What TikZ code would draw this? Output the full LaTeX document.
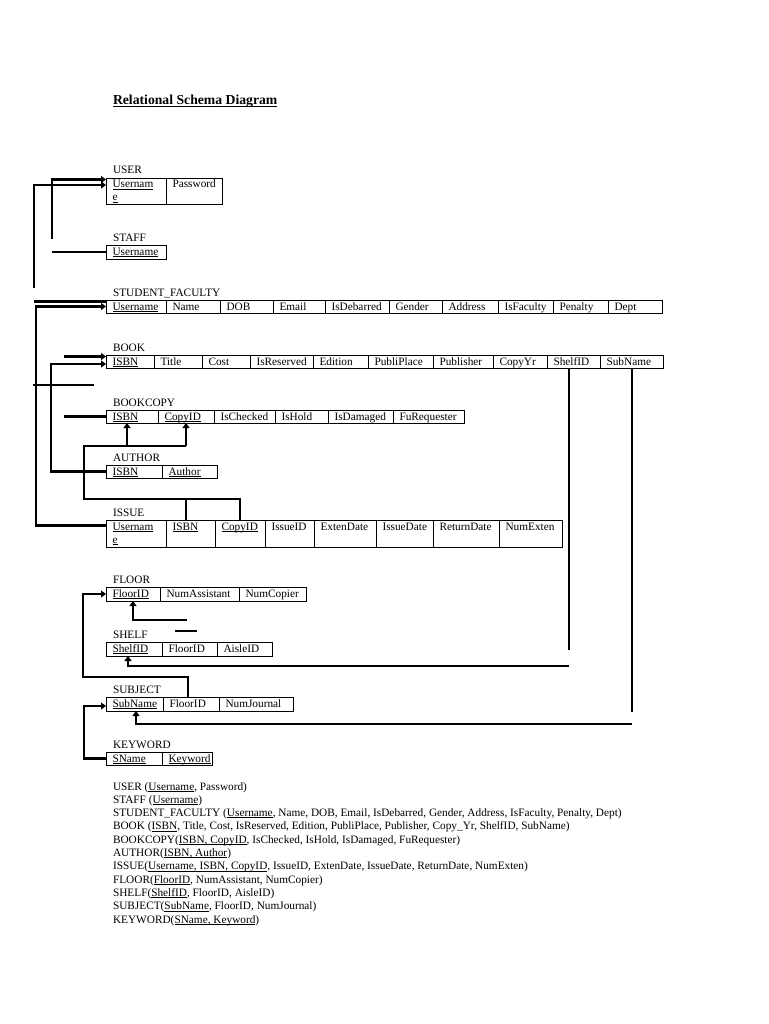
\documentclass[tikz,border=0pt]{standalone}
\usepackage{fontspec}
\setmainfont{Liberation Serif}
\usetikzlibrary{arrows.meta}
\newsavebox\keybox
\newcommand\keyul[1]{\sbox\keybox{#1}\rlap{\rule[-1.4pt]{\wd\keybox}{0.6pt}}\usebox\keybox}
\tikzset{
  cell/.style={draw=black, line width=0.8pt, rectangle, inner sep=0pt, outer sep=0pt, anchor=north west},
  txt/.style={anchor=base west, inner sep=0pt, outer sep=0pt},
  conn/.style={draw=black, line width=2.5pt},
  arr/.style={conn, -{Triangle[length=5pt,width=7pt]}}
}
\newcommand\reltab[4]{%
  \foreach \xa/\xb/\lab [count=\i] in {#4} {
    \node[cell, minimum width={(\xb-\xa)*1pt}, minimum height={(#3-#2)*1pt}] (#1-\i) at (\xa,#2) {};
    \node[txt] (#1-t\i) at (\xa+6.5,#2+10) {\lab};
  }}
\begin{document}
\begin{tikzpicture}[x=1pt,y=-1pt,font=\fontsize{11.3pt}{13pt}\selectfont]
\useasboundingbox[fill=white] (0,0) rectangle (768,1024);

% title
\node[txt, font=\fontsize{13.7pt}{15pt}\selectfont\bfseries] (title) at (113,105)
  {\sbox\keybox{Relational Schema Diagram}\rlap{\rule[-2pt]{\wd\keybox}{0.9pt}}\usebox\keybox};

% labels
\node[txt] (lbuser) at (113,174) {USER};
\node[txt] (lbstaff) at (113,241) {STAFF};
\node[txt] (lbsf) at (113,296.5) {STUDENT\_FACULTY};
\node[txt] (lbbook) at (113,351) {BOOK};
\node[txt] (lbbc) at (113,406) {BOOKCOPY};
\node[txt] (lbauthor) at (113,461) {AUTHOR};
\node[txt] (lbissue) at (113,516) {ISSUE};
\node[txt] (lbfloor) at (113,583) {FLOOR};
\node[txt] (lbshelf) at (113,638) {SHELF};
\node[txt] (lbsubject) at (113,693) {SUBJECT};
\node[txt] (lbkw) at (113,748) {KEYWORD};

% tables
\reltab{user}{178}{204}{106/166/{\keyul{Usernam}},166/222/Password}
\node[txt] (user-e) at (112.5,201) {\keyul{e}};
\reltab{staff}{245}{259}{106/166/{\keyul{Username}}}
\reltab{sf}{300}{313}{106/166/{\keyul{Username}},166/220/Name,220/273/DOB,273/325/Email,325/389/IsDebarred,389/442/Gender,442/498/Address,498/553/IsFaculty,553/608/Penalty,608/662/Dept}
\reltab{book}{355}{368}{106/154/{\keyul{ISBN}},154/202/Title,202/250/Cost,250/313/IsReserved,313/368/Edition,368/433/PubliPlace,433/493/Publisher,493/547/CopyYr,547/600/ShelfID,600/663/SubName}
\reltab{bc}{410}{423}{106/158/{\keyul{ISBN}},158/214/{\keyul{CopyID}},214/275/IsChecked,275/328/IsHold,328/393/IsDamaged,393/464/FuRequester}
\reltab{author}{465}{478}{106/162/{\keyul{ISBN}},162/217/{\keyul{Author}}}
\reltab{issue}{520}{547}{106/166/{\keyul{Usernam}},166/215/{\keyul{ISBN}},215/265/{\keyul{CopyID}},265/314/IssueID,314/376/ExtenDate,376/433/IssueDate,433/499/ReturnDate,499/562/NumExten}
\node[txt] (issue-e) at (112.5,543) {\keyul{e}};
\reltab{floor}{587}{601}{106/160/{\keyul{FloorID}},160/239/NumAssistant,239/306/NumCopier}
\reltab{shelf}{642}{656}{106/162/{\keyul{ShelfID}},162/217/FloorID,217/272/AisleID}
\reltab{subject}{697}{711}{106/163/{\keyul{SubName}},163/219/FloorID,219/293/NumJournal}
\reltab{kw}{752}{765}{106/162/{\keyul{SName}},162/212/{\keyul{Keyword}}}

% coordinates
\coordinate (cS1) at (52,252);
\coordinate (cS2) at (52,239);
\coordinate (cF1) at (34,301.5);
\coordinate (cF2) at (34,288);
\coordinate (cI1) at (36,306.5);
\coordinate (cB1) at (64,356.5);
\coordinate (cB2) at (64,416.5);
\coordinate (cA1) at (51,364);
\coordinate (cX1) at (33,385);
\coordinate (cX2) at (94,385);
\coordinate (cI2) at (186,499);
\coordinate (cI3) at (240,499);
\coordinate (cI4) at (84,499);
\coordinate (cI5) at (84,446);
\coordinate (cI6) at (186,446);
\coordinate (cI7) at (127,446);
\coordinate (cS3) at (569,650);
\coordinate (cS4) at (569,666);
\coordinate (cS5) at (632,712);
\coordinate (cS6) at (632,724);
\coordinate (cF4) at (83,677);
\coordinate (cF5) at (187,620);
\coordinate (cF6) at (175,631);
\coordinate (cF7) at (197,631);
\coordinate (cK1) at (84,706);

% connectors
\draw[conn] (staff-1.west) -- (cS1);
\draw[arr] (cS2) |- ([yshift=-1.5pt]user-1.north west);
\draw[conn] ([yshift=-1.5pt]sf-1.north west) -- (cF1);
\draw[arr] (cF2) |- ([yshift=-7pt]user-1.north west);
\draw[arr] ([yshift=-5.5pt]issue-1.north west) -| (cI1) -- (sf-1.west);
\draw[arr] (cB1) -- ([yshift=-1.5pt]book-1.north west);
\draw[conn] (bc-1.west) -- (cB2);
\draw[arr] (author-1.west) -| (cA1) -- ([yshift=-9pt]book-1.north west);
\draw[conn] (cX1) -- (cX2);
\draw[conn] (cI2 |- issue-2.north) -- (cI2);
\draw[conn] (cI3 |- issue-3.north) -- (cI3) -- (cI4) -- (cI5) -- (cI6);
\draw[arr] (cI6) -- (cI6 |- bc-2.south);
\draw[arr] (cI7) -- (cI7 |- bc-1.south);
\draw[conn] (cS3 |- book-9.south) -- (cS3);
\draw[arr] (cS4) -| ([xshift=-6pt]shelf-1.south);
\draw[conn] (cS5 |- book-10.south) -- (cS5);
\draw[arr] (cS6) -| ([xshift=1.5pt]subject-1.south);
\draw[arr] ([xshift=-3pt]subject-2.north) |- (cF4) |- (floor-1.west);
\draw[arr] (cF5) -| (floor-1.south);
\draw[conn] (cF6) -- (cF7);
\draw[arr] (kw-1.west) -| (cK1) -- ([yshift=-2pt]subject-1.west);

% schema text
\node[txt] (l1) at (113,790) {USER (\keyul{Username}, Password)};
\node[txt] (l2) at (113,803.3) {STAFF (\keyul{Username})};
\node[txt] (l3) at (113,816.6) {STUDENT\_FACULTY (\keyul{Username}, Name, DOB, Email, IsDebarred, Gender, Address, IsFaculty, Penalty, Dept)};
\node[txt] (l4) at (113,829.9) {BOOK (\keyul{ISBN}, Title, Cost, IsReserved, Edition, PubliPlace, Publisher, Copy\_Yr, ShelfID, SubName)};
\node[txt] (l5) at (113,843.2) {BOOKCOPY(\keyul{ISBN, CopyID}, IsChecked, IsHold, IsDamaged, FuRequester)};
\node[txt] (l6) at (113,856.5) {AUTHOR(\keyul{ISBN, Author})};
\node[txt] (l7) at (113,869.8) {ISSUE(\keyul{Username, ISBN, CopyID}, IssueID, ExtenDate, IssueDate, ReturnDate, NumExten)};
\node[txt] (l8) at (113,883.1) {FLOOR(\keyul{FloorID}, NumAssistant, NumCopier)};
\node[txt] (l9) at (113,896.4) {SHELF(\keyul{ShelfID}, FloorID, AisleID)};
\node[txt] (l10) at (113,909.7) {SUBJECT(\keyul{SubName}, FloorID, NumJournal)};
\node[txt] (l11) at (113,923) {KEYWORD(\keyul{SName, Keyword})};
\end{tikzpicture}
\end{document}
